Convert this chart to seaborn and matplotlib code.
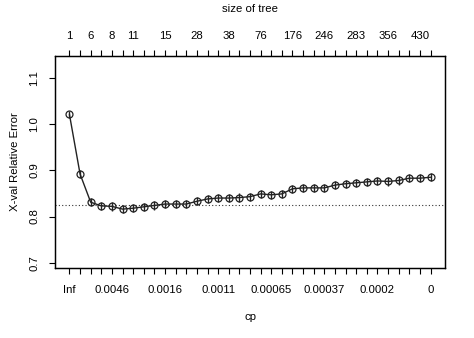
import numpy as np
import pandas as pd
import matplotlib
matplotlib.use("Agg")
import matplotlib.pyplot as plt
import seaborn as sns

# ---- data ----
xerror = [1.021, 0.892, 0.831, 0.823, 0.822, 0.816, 0.818, 0.821, 0.824, 0.827,
          0.827, 0.827, 0.833, 0.838, 0.840, 0.840, 0.841, 0.843, 0.849, 0.847,
          0.849, 0.860, 0.862, 0.862, 0.862, 0.868, 0.871, 0.873, 0.875, 0.877,
          0.876, 0.878, 0.883, 0.883, 0.885]
xstd = [0.008, 0.009, 0.009, 0.009, 0.009, 0.009, 0.009, 0.009, 0.009, 0.009,
        0.009, 0.009, 0.009, 0.009, 0.009, 0.009, 0.009, 0.009, 0.009, 0.009,
        0.009, 0.009, 0.009, 0.009, 0.009, 0.009, 0.009, 0.009, 0.009, 0.009,
        0.009, 0.009, 0.009, 0.009, 0.009]
threshold = 0.826

size_positions = [1, 3, 5, 7, 10, 13, 16, 19, 22, 25, 28, 31, 34]
size_labels = ["1", "6", "8", "11", "15", "28", "38", "76", "176", "246", "283", "356", "430"]
cp_positions = [1, 5, 10, 15, 20, 25, 30, 35]
cp_labels = ["Inf", "0.0046", "0.0016", "0.0011", "0.00065", "0.00037", "0.0002", "0"]

y_ticks = [0.7, 0.8, 0.9, 1.0, 1.1]

sns.set_style("ticks")
plt.rcParams["font.family"] = ["Liberation Sans", "DejaVu Sans"]
plt.rcParams["text.color"] = "black"
plt.rcParams["axes.labelcolor"] = "black"
plt.rcParams["xtick.color"] = "black"
plt.rcParams["ytick.color"] = "black"

df = pd.DataFrame({"idx": np.arange(1, len(xerror) + 1), "xerror": xerror, "xstd": xstd})

W, H = 474, 338
fig = plt.figure(figsize=(W / 100, H / 100), dpi=100)
ax = fig.add_axes([55 / W, (H - 268) / H, (445 - 55) / W, (268 - 56) / H])

n = len(xerror)
ax.vlines(df["idx"], df["xerror"] - df["xstd"], df["xerror"] + df["xstd"],
          color="#222222", linewidth=1.0, zorder=2)
sns.lineplot(data=df, x="idx", y="xerror", ax=ax, color="#222222", linewidth=1.0,
             marker="o", markersize=5, markerfacecolor="none",
             markeredgecolor="#222222", markeredgewidth=0.9, zorder=3)
ax.axhline(threshold, color="#333333", linestyle=(0, (1, 2)), linewidth=0.8, zorder=1)

ext = (n - 1) * 0.04
ax.set_xlim(1 - ext, n + ext)
ax.set_ylim(0.6885, 1.1476)

fs = 8.2
tl = 4.3
ax.set_xticks(np.arange(1, n + 1))
lab = [""] * n
for p, l in zip(cp_positions, cp_labels):
    lab[p - 1] = l
ax.set_xticklabels(lab, fontsize=fs)
ax.set_yticks(y_ticks)
ax.set_yticklabels([f"{v:.1f}" for v in y_ticks], fontsize=fs, rotation=90, va="center")
ax.tick_params(axis="x", length=tl, width=0.8, pad=8.0)
ax.tick_params(axis="y", length=tl, width=0.8, pad=6.9)
ax.set_xlabel("cp", fontsize=fs, labelpad=12.5)
ax.set_ylabel("X-val Relative Error", fontsize=fs, labelpad=6.5)

ax2 = ax.twiny()
ax2.set_xlim(ax.get_xlim())
ax2.set_xticks(np.arange(1, n + 1))
lab2 = [""] * n
for p, l in zip(size_positions, size_labels):
    lab2[p - 1] = l
ax2.set_xticklabels(lab2, fontsize=fs)
ax2.tick_params(axis="x", length=tl, width=0.8, pad=6.5)
ax2.set_xlabel("size of tree", fontsize=fs, labelpad=13.4)

for a in (ax, ax2):
    for s in a.spines.values():
        s.set_visible(True)
        s.set_color("black")
        s.set_linewidth(0.9)

fig.savefig("out.png", dpi=100, facecolor="white")
